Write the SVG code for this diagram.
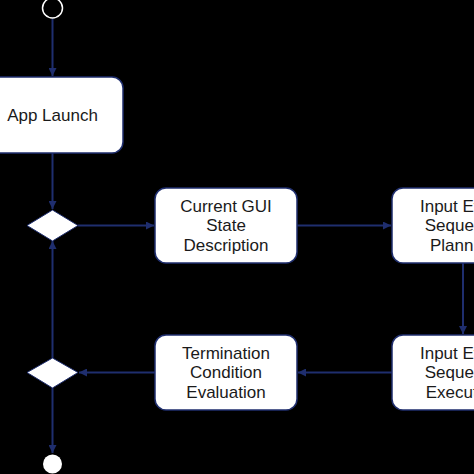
<svg xmlns="http://www.w3.org/2000/svg" width="474" height="474" viewBox="0 0 474 474">
<defs>
<marker id="arr" viewBox="0 0 10 10" refX="10" refY="5" markerWidth="4" markerHeight="4" orient="auto" markerUnits="strokeWidth">
<path d="M0,0 L10,5 L0,10 z" fill="#1f2e6e"/>
</marker>
<style>
.box{fill:#ffffff;stroke:#1f2e6e;stroke-width:1.5}
.dia{fill:#ffffff;stroke:#1f2e6e;stroke-width:1}
.t{font-family:"Liberation Sans",Arial,sans-serif;font-size:17px;fill:#1a1a1a;text-anchor:middle}
.c{stroke:#1f2e6e;stroke-width:2;fill:none;marker-end:url(#arr)}
</style>
</defs>
<rect width="474" height="474" fill="#000000"/>
<g id="connectors">
<line class="c" x1="52.5" y1="19" x2="52.5" y2="76"/>
<line class="c" x1="52.5" y1="153" x2="52.5" y2="209"/>
<line class="c" x1="78" y1="225.5" x2="154" y2="225.5"/>
<line class="c" x1="297" y1="225.5" x2="391" y2="225.5"/>
<line class="c" x1="463" y1="263" x2="463" y2="334"/>
<line class="c" x1="392" y1="372.5" x2="298" y2="372.5"/>
<line class="c" x1="155" y1="372.5" x2="79" y2="372.5"/>
<line class="c" x1="52.5" y1="358" x2="52.5" y2="241"/>
<line class="c" x1="52.5" y1="388" x2="52.5" y2="453"/>
</g>
<g id="start">
<circle cx="52.5" cy="8" r="10" fill="#000000" stroke="#ffffff" stroke-width="1.5"/>
</g>
<g id="app-launch">
<rect class="box" x="-20" y="77" width="143" height="76" rx="11"/>
<text class="t" x="52.5" y="121">App Launch</text>
</g>
<g id="decision1">
<polygon class="dia" points="52.5,210 78,225.5 52.5,241 27,225.5"/>
</g>
<g id="current-gui">
<rect class="box" x="155" y="188" width="142" height="75" rx="11"/>
<text class="t" x="226" y="212">Current GUI</text>
<text class="t" x="226" y="231">State</text>
<text class="t" x="226" y="250.5">Description</text>
</g>
<g id="planning">
<rect class="box" x="392" y="188" width="142" height="75" rx="11"/>
<text class="t" x="463" y="212">Input Event</text>
<text class="t" x="463" y="231">Sequence</text>
<text class="t" x="463" y="250.5">Planning</text>
</g>
<g id="execution">
<rect class="box" x="392" y="335" width="142" height="75" rx="11"/>
<text class="t" x="463" y="359">Input Event</text>
<text class="t" x="463" y="378">Sequence</text>
<text class="t" x="463" y="397.5">Execution</text>
</g>
<g id="termination">
<rect class="box" x="155" y="335" width="142" height="75" rx="11"/>
<text class="t" x="226" y="359">Termination</text>
<text class="t" x="226" y="378">Condition</text>
<text class="t" x="226" y="397.5">Evaluation</text>
</g>
<g id="decision2">
<polygon class="dia" points="52.5,358 78,372.5 52.5,388 27,372.5"/>
</g>
<g id="end">
<circle cx="52.5" cy="464" r="9.5" fill="#ffffff"/>
</g>
</svg>
